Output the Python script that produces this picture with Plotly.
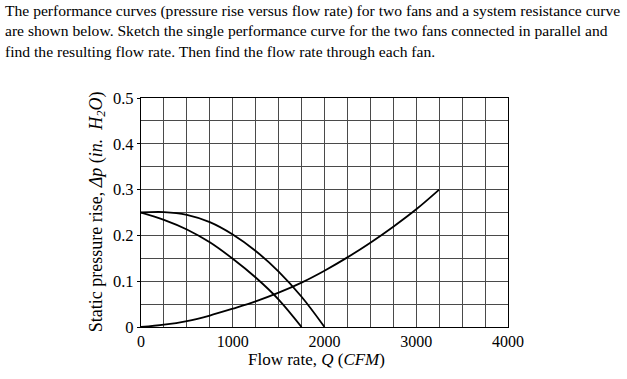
import plotly.graph_objects as go

# Data
fan1_q = [0, 250, 500, 750, 1000, 1250, 1500, 1750, 2000]
fan1_dp = [0.25, 0.251, 0.245, 0.229, 0.202, 0.166, 0.121, 0.066, 0.0]

fan2_q = [0, 250, 500, 750, 1000, 1250, 1500, 1750]
fan2_dp = [0.25, 0.234, 0.213, 0.185, 0.149, 0.108, 0.060, 0.0]

sys_q = [0, 250, 500, 750, 1000, 1250, 1500, 1750, 2000, 2250, 2500, 2750, 3000, 3250]
sys_dp = [0.0, 0.005, 0.013, 0.025, 0.040, 0.056, 0.075, 0.097, 0.123, 0.152, 0.184, 0.219, 0.257, 0.30]

x_ticks = [0, 1000, 2000, 3000, 4000]
y_ticks = [0, 0.1, 0.2, 0.3, 0.4, 0.5]

question = ("The performance curves (pressure rise versus flow rate) for two fans and a system resistance curve<br>"
            "are shown below. Sketch the single performance curve for the two fans connected in parallel and<br>"
            "find the resulting flow rate. Then find the flow rate through each fan.")

FONT = "Liberation Serif"
LINE = dict(color="black", width=1.8, shape="spline", smoothing=1.0)

fig = go.Figure()
for q, dp in [(fan1_q, fan1_dp), (fan2_q, fan2_dp), (sys_q, sys_dp)]:
    fig.add_trace(go.Scatter(x=q, y=dp, mode="lines", line=LINE,
                             showlegend=False, hoverinfo="skip"))

grid = "#4a4a4a"
fig.update_layout(
    width=627, height=379,
    margin=dict(l=141, r=119, t=98, b=52),
    paper_bgcolor="white", plot_bgcolor="white",
    font=dict(family=FONT, size=16, color="black"),
    xaxis=dict(
        range=[0, 4000], tickvals=x_ticks, ticktext=[str(v) for v in x_ticks],
        showgrid=True, gridcolor=grid, gridwidth=1,
        minor=dict(dtick=250, tick0=0, showgrid=True, gridcolor=grid, gridwidth=1),
        showline=True, linecolor="black", linewidth=1.2, mirror=True,
        ticks="", zeroline=False, tickfont=dict(family=FONT, size=16),
    ),
    yaxis=dict(
        range=[0, 0.5], tickvals=y_ticks, ticktext=["0", "0.1", "0.2", "0.3", "0.4", "0.5"],
        showgrid=True, gridcolor=grid, gridwidth=1,
        minor=dict(dtick=0.05, tick0=0, showgrid=True, gridcolor=grid, gridwidth=1),
        showline=True, linecolor="black", linewidth=1.2, mirror=True,
        ticks="outside", ticklen=3, tickcolor="black",
        zeroline=False, tickfont=dict(family=FONT, size=16.5),
    ),
    annotations=[
        dict(text=question, xref="paper", yref="paper", x=-0.377, y=1.43,
             xanchor="left", yanchor="top", align="left", showarrow=False,
             font=dict(family=FONT, size=15.6, color="black")),
        dict(text="Flow rate, <i>Q</i> (<i>CFM</i>)", xref="paper", yref="paper",
             x=0.477, y=-0.142, xanchor="center", yanchor="middle", showarrow=False,
             font=dict(family=FONT, size=17)),
        dict(text="Static pressure rise, <i>Δp</i> (<i>in.  H<sub>2</sub>O</i>)",
             xref="paper", yref="paper", x=-0.12, y=0.505, textangle=-90,
             xanchor="center", yanchor="middle", showarrow=False,
             font=dict(family=FONT, size=18)),
    ],
)

fig.write_html("out.html", config={"displayModeBar": False},
               post_script="document.body.style.margin='0';document.body.style.padding='0';")
